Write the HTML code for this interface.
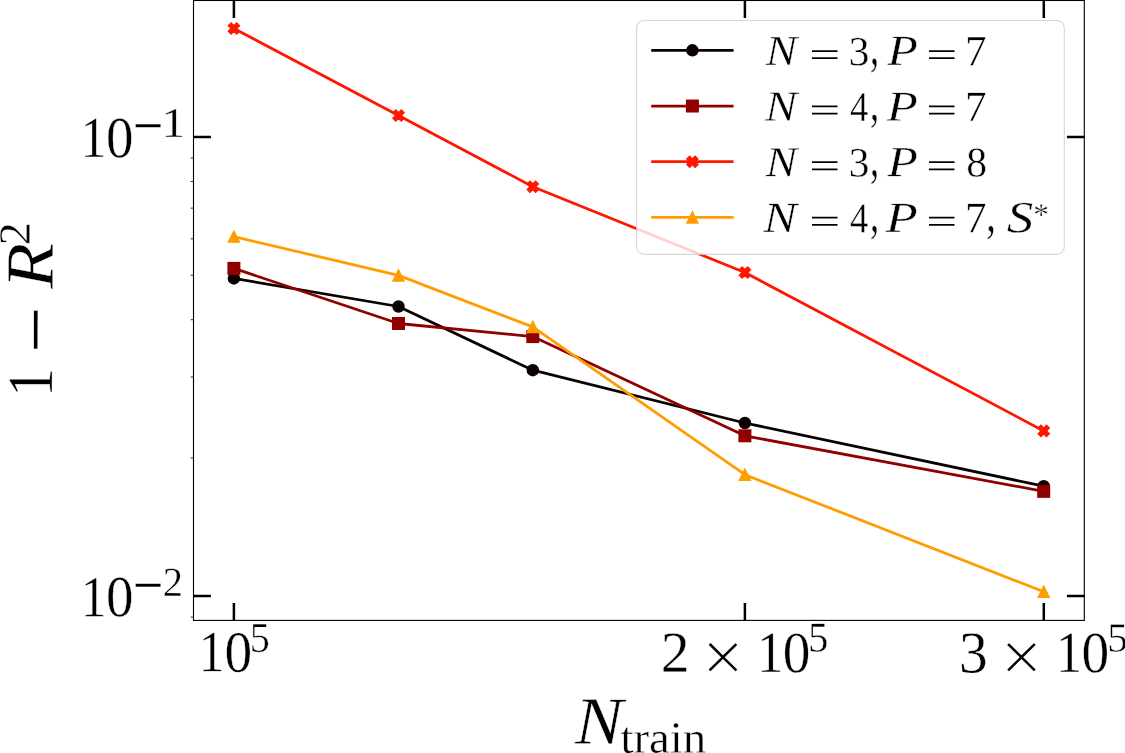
<!DOCTYPE html><html><head><meta charset="utf-8"><title>plot</title><style>html,body{margin:0;padding:0;background:#fff;overflow:hidden}svg{display:block}</style></head><body><svg width="1125" height="753" viewBox="0 0 1125 753" font-family='"Liberation Serif", serif' fill="#000">
<rect width="1125" height="753" fill="#fff"/>
<polyline points="233.90,278.40 398.50,306.50 532.80,370.20 744.90,423.00 1043.70,486.20" fill="none" stroke="#0b0000" stroke-width="2.78" stroke-linejoin="round" stroke-linecap="butt"/>
<circle cx="233.90" cy="278.40" r="5.55" fill="#0b0000" stroke="#0b0000" stroke-width="1.39"/>
<circle cx="398.50" cy="306.50" r="5.55" fill="#0b0000" stroke="#0b0000" stroke-width="1.39"/>
<circle cx="532.80" cy="370.20" r="5.55" fill="#0b0000" stroke="#0b0000" stroke-width="1.39"/>
<circle cx="744.90" cy="423.00" r="5.55" fill="#0b0000" stroke="#0b0000" stroke-width="1.39"/>
<circle cx="1043.70" cy="486.20" r="5.55" fill="#0b0000" stroke="#0b0000" stroke-width="1.39"/>
<polyline points="233.90,268.40 398.50,323.50 532.80,336.60 744.90,435.80 1043.70,491.35" fill="none" stroke="#910000" stroke-width="2.78" stroke-linejoin="round" stroke-linecap="butt"/>
<rect x="228.10" y="262.60" width="11.60" height="11.60" fill="#910000" stroke="#910000" stroke-width="1.39" stroke-linejoin="miter"/>
<rect x="392.70" y="317.70" width="11.60" height="11.60" fill="#910000" stroke="#910000" stroke-width="1.39" stroke-linejoin="miter"/>
<rect x="527.00" y="330.80" width="11.60" height="11.60" fill="#910000" stroke="#910000" stroke-width="1.39" stroke-linejoin="miter"/>
<rect x="739.10" y="430.00" width="11.60" height="11.60" fill="#910000" stroke="#910000" stroke-width="1.39" stroke-linejoin="miter"/>
<rect x="1037.90" y="485.55" width="11.60" height="11.60" fill="#910000" stroke="#910000" stroke-width="1.39" stroke-linejoin="miter"/>
<polyline points="233.90,28.45 398.50,115.45 532.80,186.70 744.90,272.50 1043.70,430.90" fill="none" stroke="#ff1700" stroke-width="2.78" stroke-linejoin="round" stroke-linecap="butt"/>
<path d="M231.12 22.90 L233.90 25.68 L236.68 22.90 L239.45 25.68 L236.68 28.45 L239.45 31.22 L236.68 34.00 L233.90 31.22 L231.12 34.00 L228.35 31.22 L231.12 28.45 L228.35 25.68 Z" fill="#ff1700" stroke="#ff1700" stroke-width="1.39" stroke-linejoin="miter" stroke-miterlimit="10"/>
<path d="M395.73 109.90 L398.50 112.67 L401.27 109.90 L404.05 112.67 L401.27 115.45 L404.05 118.23 L401.27 121.00 L398.50 118.23 L395.73 121.00 L392.95 118.23 L395.73 115.45 L392.95 112.67 Z" fill="#ff1700" stroke="#ff1700" stroke-width="1.39" stroke-linejoin="miter" stroke-miterlimit="10"/>
<path d="M530.02 181.15 L532.80 183.92 L535.57 181.15 L538.35 183.92 L535.57 186.70 L538.35 189.47 L535.57 192.25 L532.80 189.47 L530.02 192.25 L527.25 189.47 L530.02 186.70 L527.25 183.92 Z" fill="#ff1700" stroke="#ff1700" stroke-width="1.39" stroke-linejoin="miter" stroke-miterlimit="10"/>
<path d="M742.12 266.95 L744.90 269.73 L747.67 266.95 L750.45 269.73 L747.67 272.50 L750.45 275.27 L747.67 278.05 L744.90 275.27 L742.12 278.05 L739.35 275.27 L742.12 272.50 L739.35 269.73 Z" fill="#ff1700" stroke="#ff1700" stroke-width="1.39" stroke-linejoin="miter" stroke-miterlimit="10"/>
<path d="M1040.92 425.35 L1043.70 428.12 L1046.48 425.35 L1049.25 428.12 L1046.48 430.90 L1049.25 433.67 L1046.48 436.45 L1043.70 433.67 L1040.92 436.45 L1038.15 433.67 L1040.92 430.90 L1038.15 428.12 Z" fill="#ff1700" stroke="#ff1700" stroke-width="1.39" stroke-linejoin="miter" stroke-miterlimit="10"/>
<polyline points="233.90,236.60 398.50,275.40 532.80,326.90 744.90,474.70 1043.70,591.70" fill="none" stroke="#ff9d00" stroke-width="2.78" stroke-linejoin="round" stroke-linecap="butt"/>
<path d="M233.90 231.05 L228.35 242.15 L239.45 242.15 Z" fill="#ff9d00" stroke="#ff9d00" stroke-width="1.39" stroke-linejoin="miter" stroke-miterlimit="10"/>
<path d="M398.50 269.85 L392.95 280.95 L404.05 280.95 Z" fill="#ff9d00" stroke="#ff9d00" stroke-width="1.39" stroke-linejoin="miter" stroke-miterlimit="10"/>
<path d="M532.80 321.35 L527.25 332.45 L538.35 332.45 Z" fill="#ff9d00" stroke="#ff9d00" stroke-width="1.39" stroke-linejoin="miter" stroke-miterlimit="10"/>
<path d="M744.90 469.15 L739.35 480.25 L750.45 480.25 Z" fill="#ff9d00" stroke="#ff9d00" stroke-width="1.39" stroke-linejoin="miter" stroke-miterlimit="10"/>
<path d="M1043.70 586.15 L1038.15 597.25 L1049.25 597.25 Z" fill="#ff9d00" stroke="#ff9d00" stroke-width="1.39" stroke-linejoin="miter" stroke-miterlimit="10"/>
<rect x="193.50" y="0.50" width="890.80" height="619.90" fill="none" stroke="#000" stroke-width="1.11"/>
<path d="M233.90 620.40V603.00M233.90 0.50V17.90M744.90 620.40V603.00M744.90 0.50V17.90M1043.80 620.40V603.00M1043.80 0.50V17.90M193.50 137.00H210.90M1084.30 137.00H1066.90M193.50 596.10H210.90M1084.30 596.10H1066.90" stroke="#000" stroke-width="2.50" fill="none"/>
<path d="M193.50 457.90H190.70M193.50 377.05H190.70M193.50 319.69H190.70M193.50 275.20H190.70M193.50 238.85H190.70M193.50 208.12H190.70M193.50 181.49H190.70M193.50 158.01H190.70M193.50 617.11H190.70" stroke="#000" stroke-width="0.83" fill="none"/>
<rect x="636.60" y="20.50" width="427.70" height="233.90" rx="7.5" ry="7.5" fill="#fff" fill-opacity="0.8" stroke="#cccccc" stroke-opacity="0.8" stroke-width="1.11"/>
<path d="M651.2 50.35H733.6" stroke="#0b0000" stroke-width="2.78"/>
<circle cx="692.40" cy="50.35" r="5.55" fill="#0b0000" stroke="#0b0000" stroke-width="1.39"/>
<path d="M651.2 106.03H733.6" stroke="#910000" stroke-width="2.78"/>
<rect x="686.60" y="100.23" width="11.60" height="11.60" fill="#910000" stroke="#910000" stroke-width="1.39" stroke-linejoin="miter"/>
<path d="M651.2 161.71H733.6" stroke="#ff1700" stroke-width="2.78"/>
<path d="M689.62 156.16 L692.40 158.94 L695.17 156.16 L697.95 158.94 L695.17 161.71 L697.95 164.49 L695.17 167.26 L692.40 164.49 L689.62 167.26 L686.85 164.49 L689.62 161.71 L686.85 158.94 Z" fill="#ff1700" stroke="#ff1700" stroke-width="1.39" stroke-linejoin="miter" stroke-miterlimit="10"/>
<path d="M651.2 217.39H733.6" stroke="#ff9d00" stroke-width="2.78"/>
<path d="M692.40 211.84 L686.85 222.94 L697.95 222.94 Z" fill="#ff9d00" stroke="#ff9d00" stroke-width="1.39" stroke-linejoin="miter" stroke-miterlimit="10"/>
<text transform="matrix(0.8916 0.003 0 1 80.61 157.09)" font-size="57.91" stroke="#fff" stroke-width="0.40">1</text>
<text transform="matrix(0.9461 0.003 0 1 105.88 157.31)" font-size="58.19" stroke="#fff" stroke-width="0.40">0</text>
<text transform="matrix(0.8121 0.003 0 1 132.84 148.09)" font-size="67.20" stroke="#fff" stroke-width="0.50">−</text>
<text transform="matrix(1.1508 0.003 0 1 161.24 137.10)" font-size="42.50" stroke="#fff" stroke-width="0.40">1</text>
<text transform="matrix(0.8784 0.003 0 1 80.65 616.38)" font-size="58.35" stroke="#fff" stroke-width="0.40">1</text>
<text transform="matrix(0.9461 0.003 0 1 105.88 616.31)" font-size="58.19" stroke="#fff" stroke-width="0.40">0</text>
<text transform="matrix(0.8121 0.003 0 1 132.84 607.45)" font-size="67.20" stroke="#fff" stroke-width="0.50">−</text>
<text transform="matrix(0.9758 0.003 0 1 162.79 596.09)" font-size="41.62" stroke="#fff" stroke-width="0.40">2</text>
<text transform="matrix(0.8756 0.003 0 1 198.75 671.20)" font-size="58.35" stroke="#fff" stroke-width="0.40">1</text>
<text transform="matrix(0.9482 0.003 0 1 224.40 671.71)" font-size="58.51" stroke="#fff" stroke-width="0.40">0</text>
<text transform="matrix(0.9440 0.003 0 1 249.73 651.67)" font-size="42.56" stroke="#fff" stroke-width="0.40">5</text>
<text transform="matrix(0.9934 0.003 0 1 660.84 671.84)" font-size="58.18" stroke="#fff" stroke-width="0.40">2</text>
<text transform="matrix(1.0128 0.003 0 1 701.96 681.61)" font-size="73.36" stroke="#fff" stroke-width="1.10">×</text>
<text transform="matrix(0.8966 0.003 0 1 756.93 672.09)" font-size="58.73" stroke="#fff" stroke-width="0.40">1</text>
<text transform="matrix(0.9472 0.003 0 1 782.77 672.26)" font-size="58.37" stroke="#fff" stroke-width="0.40">0</text>
<text transform="matrix(0.9637 0.003 0 1 807.99 651.60)" font-size="42.29" stroke="#fff" stroke-width="0.40">5</text>
<text transform="matrix(0.9703 0.003 0 1 959.07 672.61)" font-size="59.34" stroke="#fff" stroke-width="0.40">3</text>
<text transform="matrix(1.0121 0.003 0 1 1000.44 681.56)" font-size="73.26" stroke="#fff" stroke-width="1.10">×</text>
<text transform="matrix(0.8880 0.003 0 1 1055.89 672.09)" font-size="58.73" stroke="#fff" stroke-width="0.40">1</text>
<text transform="matrix(0.9471 0.003 0 1 1081.58 672.35)" font-size="58.51" stroke="#fff" stroke-width="0.40">0</text>
<text transform="matrix(0.9934 0.003 0 1 1107.15 651.61)" font-size="41.47" stroke="#fff" stroke-width="0.40">5</text>
<text transform="matrix(1.0655 0.003 0 1 574.93 743.70)" font-size="67.53" font-style="italic" stroke="#fff" stroke-width="0.40">N</text>
<text transform="matrix(1.0457 0.003 0 1 620.40 752.65)" font-size="44.81" stroke="#fff" stroke-width="0.40">train</text>
<text transform="matrix(0.003 -0.8969 1 0 51.95 397.11)" font-size="64.35" stroke="#fff" stroke-width="0.40">1</text>
<text transform="matrix(0.003 -1.0006 1 0 63.45 353.33)" font-size="83.60" stroke="#fff" stroke-width="0.50">−</text>
<text transform="matrix(0.003 -1.1099 1 0 52.87 288.79)" font-size="67.80" font-style="italic" stroke="#fff" stroke-width="0.40">R</text>
<text transform="matrix(0.003 -1.0220 1 0 29.74 245.34)" font-size="44.94" stroke="#fff" stroke-width="0.40">2</text>
<text transform="matrix(1.0952 0.003 0 1 765.68 64.91)" font-size="42.80" font-style="italic" stroke="#fff" stroke-width="0.40">N</text>
<text transform="matrix(1.5558 0.003 0 1 809.27 66.23)" font-size="35.28">=</text>
<text transform="matrix(0.9972 0.003 0 1 848.73 65.15)" font-size="41.43" stroke="#fff" stroke-width="0.40">3</text>
<text transform="matrix(0.6610 0.003 0 1 869.98 64.35)" font-size="55.29" stroke="#fff" stroke-width="0.40">,</text>
<text transform="matrix(1.1474 0.003 0 1 887.39 64.91)" font-size="43.31" font-style="italic" stroke="#fff" stroke-width="0.40">P</text>
<text transform="matrix(1.5558 0.003 0 1 926.27 66.23)" font-size="35.28">=</text>
<text transform="matrix(0.9789 0.003 0 1 965.09 65.78)" font-size="44.09" stroke="#fff" stroke-width="0.40">7</text>
<text transform="matrix(1.1091 0.003 0 1 765.00 120.74)" font-size="43.26" font-style="italic" stroke="#fff" stroke-width="0.40">N</text>
<text transform="matrix(1.5191 0.003 0 1 809.27 121.90)" font-size="36.13">=</text>
<text transform="matrix(0.8656 0.003 0 1 850.07 121.05)" font-size="42.08" stroke="#fff" stroke-width="0.40">4</text>
<text transform="matrix(0.6982 0.003 0 1 869.98 120.10)" font-size="52.35" stroke="#fff" stroke-width="0.40">,</text>
<text transform="matrix(1.1851 0.003 0 1 886.70 120.74)" font-size="42.93" font-style="italic" stroke="#fff" stroke-width="0.40">P</text>
<text transform="matrix(1.5191 0.003 0 1 926.27 121.90)" font-size="36.13">=</text>
<text transform="matrix(0.9980 0.003 0 1 965.09 121.06)" font-size="43.25" stroke="#fff" stroke-width="0.40">7</text>
<text transform="matrix(1.0952 0.003 0 1 765.68 176.27)" font-size="42.80" font-style="italic" stroke="#fff" stroke-width="0.40">N</text>
<text transform="matrix(1.5191 0.003 0 1 809.27 177.77)" font-size="36.13">=</text>
<text transform="matrix(0.9876 0.003 0 1 848.73 176.50)" font-size="41.84" stroke="#fff" stroke-width="0.40">3</text>
<text transform="matrix(0.6610 0.003 0 1 869.98 175.71)" font-size="55.29" stroke="#fff" stroke-width="0.40">,</text>
<text transform="matrix(1.1474 0.003 0 1 887.39 176.27)" font-size="43.31" font-style="italic" stroke="#fff" stroke-width="0.40">P</text>
<text transform="matrix(1.5191 0.003 0 1 926.27 177.77)" font-size="36.13">=</text>
<text transform="matrix(0.9802 0.003 0 1 966.24 176.50)" font-size="42.46" stroke="#fff" stroke-width="0.40">8</text>
<text transform="matrix(1.1541 0.003 0 1 763.47 232.10)" font-size="43.26" font-style="italic" stroke="#fff" stroke-width="0.40">N</text>
<text transform="matrix(1.5191 0.003 0 1 809.27 233.26)" font-size="36.13">=</text>
<text transform="matrix(0.8530 0.003 0 1 850.07 232.41)" font-size="42.71" stroke="#fff" stroke-width="0.40">4</text>
<text transform="matrix(0.6824 0.003 0 1 869.98 231.25)" font-size="53.56" stroke="#fff" stroke-width="0.40">,</text>
<text transform="matrix(1.2085 0.003 0 1 885.84 232.10)" font-size="43.31" font-style="italic" stroke="#fff" stroke-width="0.40">P</text>
<text transform="matrix(1.5191 0.003 0 1 926.27 233.26)" font-size="36.13">=</text>
<text transform="matrix(0.9789 0.003 0 1 965.09 232.42)" font-size="44.09" stroke="#fff" stroke-width="0.40">7</text>
<text transform="matrix(0.7193 0.003 0 1 986.26 231.26)" font-size="53.50" stroke="#fff" stroke-width="0.40">,</text>
<text transform="matrix(1.1872 0.003 0 1 1006.73 232.29)" font-size="44.69" font-style="italic" stroke="#fff" stroke-width="0.40">S</text>
<text transform="matrix(0.9761 0.003 0 1 1033.33 225.35)" font-size="32.17" stroke="#fff" stroke-width="0.40">*</text>
</svg></body></html>
